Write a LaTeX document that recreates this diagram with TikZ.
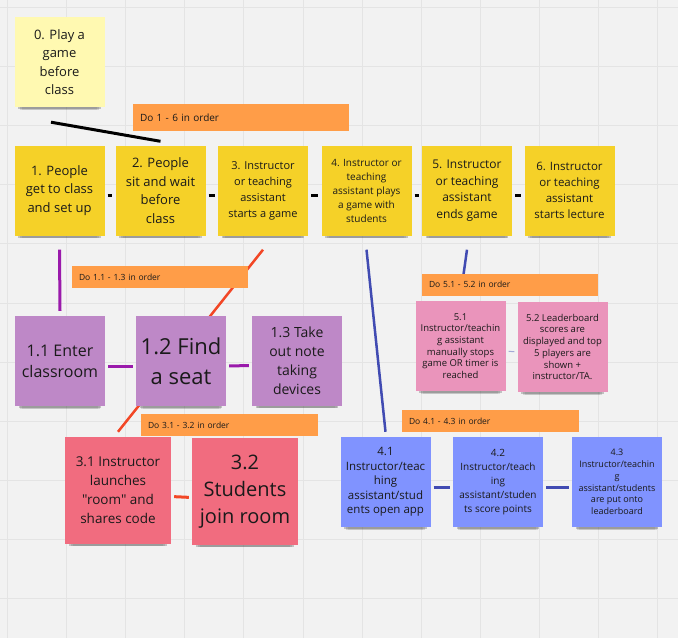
\documentclass[tikz,border=0pt]{standalone}
\usepackage{fontspec}
\setmainfont{Open Sans}[Ligatures=TeXOff]
\usetikzlibrary{shadows}
\pgfdeclarelayer{back}
\pgfdeclarelayer{lines}
\pgfsetlayers{back,lines,main}
\definecolor{board}{HTML}{F2F2F2}
\definecolor{gridgrey}{HTML}{E4E4E4}
\definecolor{ink}{HTML}{1A1A1A}
\definecolor{paleyellow}{HTML}{FFF9B1}
\definecolor{noteyellow}{HTML}{F5D128}
\definecolor{tagorange}{HTML}{FF9D48}
\definecolor{notepurple}{HTML}{BE88C7}
\definecolor{notered}{HTML}{F16C7F}
\definecolor{noteblue}{HTML}{8093FF}
\definecolor{notepink}{HTML}{EA94BB}
\definecolor{linepurple}{HTML}{9A1AAB}
\definecolor{linered}{HTML}{F24726}
\definecolor{lineblue}{HTML}{414BB2}
\definecolor{linegrey}{HTML}{A3A9D6}
\begin{document}
\begin{tikzpicture}[x=1pt, y=-1pt,
    note/.style={fill=#1, minimum width=90pt, minimum height=90pt, inner sep=2pt,
      align=center, text=ink,
      general shadow={fill=black, opacity=0.07, shadow scale=0.84, shadow yshift=-12pt},
      general shadow={fill=black, opacity=0.12, shadow scale=0.88, shadow yshift=-9.5pt},
      general shadow={fill=black, opacity=0.2, shadow scale=0.92, shadow yshift=-6.5pt}},
    tag/.style={fill=tagorange, text=ink, minimum height=22pt, text width=#1,
      inner xsep=7pt, align=left, font=\fontsize{8.5}{10}\selectfont},
    link/.style={line width=3pt, shorten <=3pt, shorten >=3pt},
  ]
  \useasboundingbox (0,0) rectangle (678,638);

  % board with grid
  \begin{pgfonlayer}{back}
    \fill[board] (0,0) rectangle (678,638);
    \foreach \k in {0,...,11}
      \draw[gridgrey, line width=1pt] (7.5+59.1*\k,0) -- (7.5+59.1*\k,638);
    \foreach \k in {0,...,10}
      \draw[gridgrey, line width=1pt] (0,7.5+59.1*\k) -- (678,7.5+59.1*\k);
  \end{pgfonlayer}

  % main steps
  \node[note=paleyellow, font=\fontsize{13}{18.5}\selectfont] (n0) at (59.5,62)
    {0. Play a\\game\\before\\class};
  \node[tag=202pt, font=\fontsize{10}{12}\selectfont, minimum height=27pt] (do16) at (241,117.5)
    {Do 1 - 6 in order};

  \node[note=noteyellow, font=\fontsize{13}{18.5}\selectfont] (n1) at (59.5,190.5)
    {1. People\\get to class\\and set up};
  \node[note=noteyellow, font=\fontsize{13}{18.5}\selectfont] (n2) at (160.5,190.5)
    {2. People\\sit and wait\\before\\class};
  \node[note=noteyellow, font=\fontsize{11}{16}\selectfont] (n3) at (263,190.5)
    {3. Instructor\\or teaching\\assistant\\starts a game};
  \node[note=noteyellow, font=\fontsize{10}{14}\selectfont] (n4) at (366.5,190.5)
    {4. Instructor or\\teaching\\assistant plays\\a game with\\students};
  \node[note=noteyellow, font=\fontsize{12}{16.5}\selectfont] (n5) at (467,190.5)
    {5. Instructor\\or teaching\\assistant\\ends game};
  \node[note=noteyellow, font=\fontsize{11.5}{16}\selectfont] (n6) at (569.5,190.5)
    {6. Instructor\\or teaching\\assistant\\starts lecture};

  % step 1
  \node[tag=162pt] (do11) at (160,277) {Do 1.1 - 1.3 in order};
  \node[note=notepurple, font=\fontsize{16}{21}\selectfont] (n11) at (60,361)
    {1.1 Enter\\classroom};
  \node[note=notepurple, font=\fontsize{22}{30}\selectfont] (n12) at (181,361)
    {1.2 Find\\a seat};
  \node[note=notepurple, font=\fontsize{14}{19}\selectfont] (n13) at (297,360.5)
    {1.3 Take\\out note\\taking\\devices};

  % step 3
  \node[tag=163pt] (do31) at (229.5,425) {Do 3.1 - 3.2 in order};
  \node[note=notered, minimum width=106pt, minimum height=107pt,
    font=\fontsize{13.5}{19}\selectfont] (n31) at (118,490.5)
    {3.1 Instructor\\launches\\"room" and\\shares code};
  \node[note=notered, minimum width=106pt, minimum height=107pt,
    font=\fontsize{20}{27}\selectfont] (n32) at (245,491.5)
    {3.2\\Students\\join room};

  % step 4
  \node[tag=163pt] (do41) at (490.5,421) {Do 4.1 - 4.3 in order};
  \node[note=noteblue, font=\fontsize{11.5}{14.5}\selectfont] (n41) at (385.5,482)
    {4.1\\Instructor/teac\\hing\\assistant/stud\\ents open app};
  \node[note=noteblue, font=\fontsize{10}{14}\selectfont] (n42) at (498,482)
    {4.2\\Instructor/teach\\ing\\assistant/studen\\ts score points};
  \node[note=noteblue, font=\fontsize{9}{11.7}\selectfont] (n43) at (617,482)
    {4.3\\Instructor/teachin\\g\\assistant/students\\are put onto\\leaderboard};

  % step 5
  \node[tag=162pt] (do51) at (510,284.5) {Do 5.1 - 5.2 in order};
  \node[note=notepink, font=\fontsize{9.5}{11.7}\selectfont] (n51) at (460.5,346)
    {5.1\\Instructor/teachin\\g assistant\\manually stops\\game OR timer is\\reached};
  \node[note=notepink, font=\fontsize{9.5}{11.7}\selectfont] (n52) at (562.5,347)
    {5.2 Leaderboard\\scores are\\displayed and top\\5 players are\\shown +\\instructor/TA.};

  \begin{pgfonlayer}{lines}
    \draw[line width=3pt] ([xshift=-8.5pt,yshift=-15pt]n0.south) -- ([yshift=4pt]n2.north);
    \foreach \a/\b in {n1/n2, n2/n3, n3/n4, n4/n5, n5/n6}
      \draw[link, black] ([yshift=-5pt]\a.east) -- ([yshift=-5pt]\b.west);

    \draw[linepurple, line width=3pt] ([yshift=-14pt]n1.south) -- ([yshift=5pt]n11.north);
    \draw[link, linepurple] ([yshift=-5pt]n11.east) -- ([yshift=-5pt]n12.west);
    \draw[link, linepurple] ([yshift=-5pt]n12.east) -- ([yshift=-5pt]n13.west);

    \draw[linered, line width=2.5pt] ([yshift=-14pt]n3.south) -- ([yshift=5pt]n31.north);
    \draw[link, linered] ([yshift=-6pt]n31.east) -- ([yshift=-6pt]n32.west);

    \draw[lineblue, line width=2.5pt] ([yshift=-14pt]n4.south) -- ([yshift=5pt]n41.north);
    \draw[link, lineblue] ([yshift=-5pt]n41.east) -- ([yshift=-5pt]n42.west);
    \draw[link, lineblue] ([yshift=-5pt]n42.east) -- ([yshift=-5pt]n43.west);

    \draw[lineblue, line width=2.5pt] ([yshift=-14pt]n5.south) -- ([yshift=5pt]n51.north);
    \draw[link, linegrey, line width=1pt] ([yshift=-5pt]n51.east) -- ([yshift=-5pt]n52.west);
  \end{pgfonlayer}
\end{tikzpicture}
\end{document}
